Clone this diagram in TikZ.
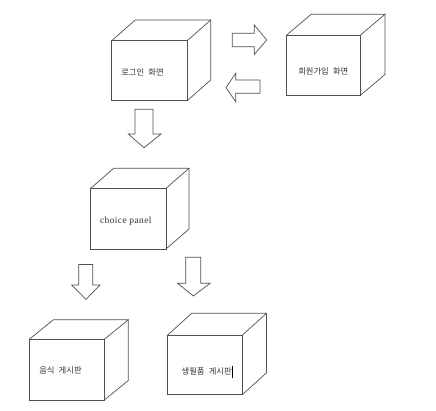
\documentclass[tikz,border=0pt]{standalone}
\usepackage{fontspec}
\setmainfont{Liberation Serif}
\newfontfamily\kr{Noto Sans CJK KR}
\definecolor{lc}{HTML}{505050}
\definecolor{tc}{HTML}{303030}
\newcommand\ksp{\hspace{0.5em}}
\tikzset{
  edge/.style={draw=lc, line width=0.7pt, line join=miter},
  face/.style={edge, inner sep=0pt, outer sep=0pt, anchor=north west},
  krtxt/.style={font=\kr\fontsize{8.3}{9}\selectfont, text=tc, inner sep=0pt},
  entxt/.style={font=\addfontfeatures{LetterSpace=4}\fontsize{9.5}{11}\selectfont, text=tc, inner sep=0pt},
  blk/.style={edge, fill=white}
}
\newcommand\mycube[7]{%
  \node[face, minimum width={(#4-#2)*1pt}, minimum height={(#5-#3)*1pt}] (#1) at (#2,#3) {};
  \draw[edge] (#1.north west) -- ++(#6,-#7) coordinate (#1-btl)
     -- ([shift={(#6,-#7)}]#1.north east) coordinate (#1-btr) -- (#1.north east);
  \draw[edge] (#1-btr) -- ([shift={(#6,-#7)}]#1.south east) coordinate (#1-bbr) -- (#1.south east);
}
\begin{document}
\begin{tikzpicture}[x=1pt,y=-1pt]
\useasboundingbox (0,0) rectangle (436,410);
% cubes
\mycube{login}{111.7}{40.7}{187.2}{100.7}{23.5}{20.7}
\mycube{join}{286.7}{35}{360.5}{95.2}{24.5}{20.7}
\mycube{choice}{90.7}{188.3}{166}{249}{23}{20}
\mycube{food}{29.3}{339.3}{104.3}{400}{24}{19.5}
\mycube{goods}{167.7}{335}{242.5}{394.5}{24}{21.7}
% labels
\node[krtxt] (loginT) at (142.5,72.7) {로그인\ksp 화면};
\node[krtxt] (joinT) at (323.3,71.7) {회원가입\ksp 화면};
\node[entxt] (choiceT) at (125.8,221.7) {choice panel};
\node[krtxt] (foodT) at (60.5,370.7) {음식\ksp 게시판};
\node[krtxt] (goodsT) at (206.7,371.7) {생필품\ksp 게시판};
\draw[black, line width=0.9pt] ([xshift=1pt,yshift=1.5pt]goodsT.north east) -- ([xshift=1pt,yshift=-2pt]goodsT.south east);
% block arrows
\draw[blk] (232.3,33.3) -- (254.3,33.3) -- (254.3,25) -- (266.7,40) -- (254.3,54.3) -- (254.3,46.7) -- (232.3,46.7) -- cycle;
\draw[blk] (260,80) -- (235.7,80) -- (235.7,73.3) -- (226,87.7) -- (235.7,101.7) -- (235.7,93.3) -- (260,93.3) -- cycle;
\draw[blk] (135,109.3) -- (153,109.3) -- (153,134) -- (161,134) -- (144,147.7) -- (128.3,134) -- (135,134) -- cycle;
\draw[blk] (78.7,264.5) -- (92.7,264.5) -- (92.7,285) -- (100,285) -- (86,299.3) -- (71.7,285) -- (78.7,285) -- cycle;
\draw[blk] (185.7,257.3) -- (200.7,257.3) -- (200.7,283.3) -- (210,283.3) -- (193.3,296) -- (177.7,283.3) -- (185.7,283.3) -- cycle;
\end{tikzpicture}
\end{document}
